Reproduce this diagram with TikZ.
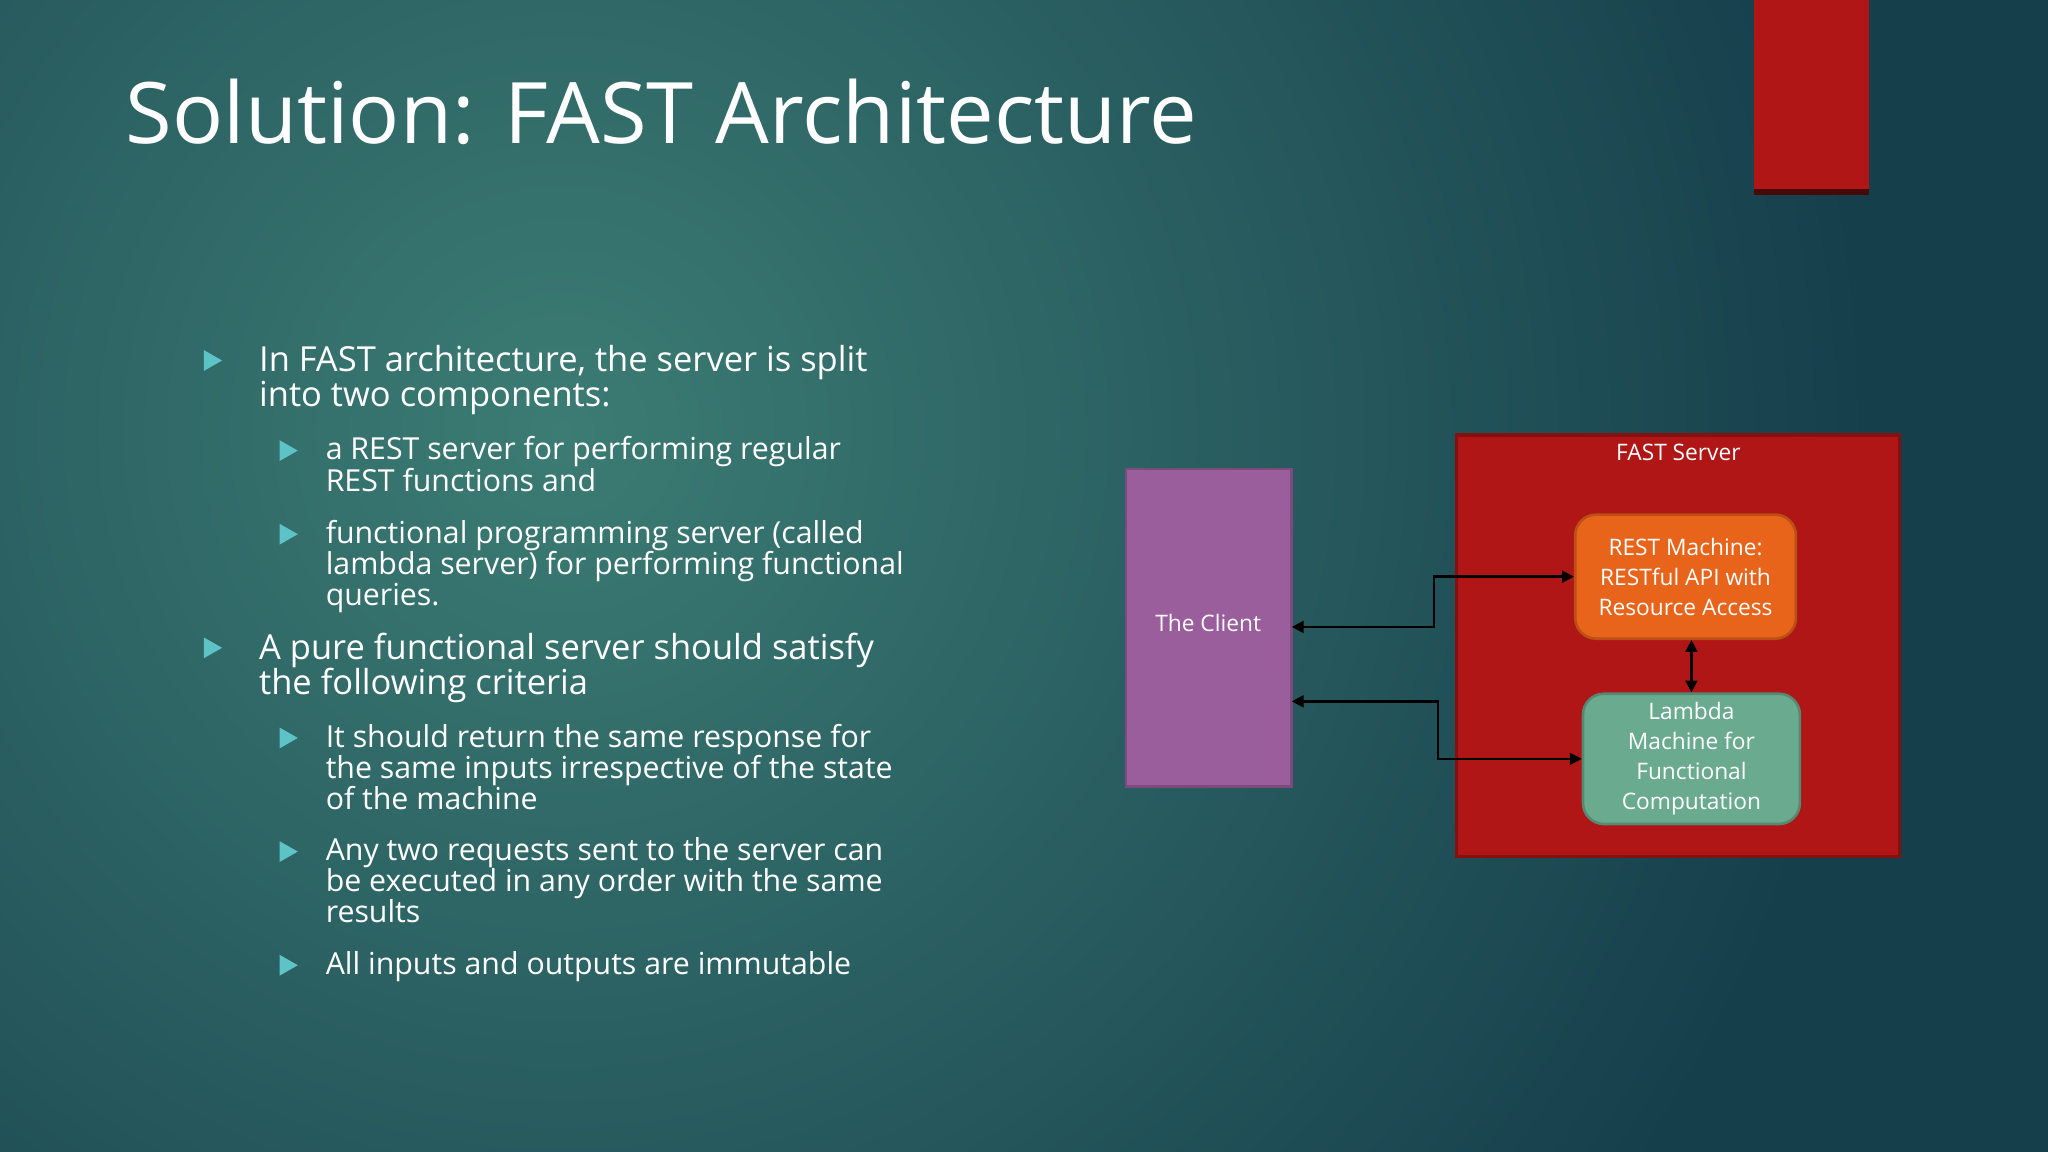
\documentclass[tikz,border=0pt]{standalone}
\usepackage{fontspec}
\setmainfont{Open Sans}
\usetikzlibrary{arrows.meta}
\definecolor{bgdark}{HTML}{163F4C}
\definecolor{bglight}{HTML}{3C7C74}
\definecolor{tri}{HTML}{5EC3C6}
\definecolor{clientc}{HTML}{9B5E9C}
\definecolor{serverc}{HTML}{B01616}
\definecolor{restc}{HTML}{E8641A}
\definecolor{lamc}{HTML}{6AAB90}
\tikzset{
  lone/.style={anchor=north west, text=white, font=\fontsize{13.2}{13.5}\selectfont, align=left, inner sep=0pt},
  ltwo/.style={anchor=north west, text=white, font=\fontsize{11.6}{11.9}\selectfont, align=left, inner sep=0pt},
  boxtext/.style={text=white, font=\fontsize{8.7}{11.5}\selectfont, align=center},
  conn/.style={black, line width=0.9pt, {Triangle[length=4.5pt,width=4.5pt]}-{Triangle[length=4.5pt,width=4.5pt]}}
}
\newcommand{\tri}[2]{\fill[tri] (#1-7,#2-8) -- (#1+7,#2) -- (#1-7,#2+8) -- cycle;}
\begin{document}
\begin{tikzpicture}[x=0.5pt,y=-0.5pt]
\useasboundingbox (0,0) rectangle (1568,882);
\begin{scope}
\clip (0,0) rectangle (1568,882);
\fill[bgdark] (0,0) rectangle (1568,882);
\shade[inner color=bglight, outer color=bgdark] (430,330) circle (1000);
\end{scope}
% top red tab
\fill[black!60!serverc] (1343,0) rectangle (1431,149);
\fill[serverc] (1343,0) rectangle (1431,145);
% title
\node[anchor=base west, text=white, inner sep=0pt, font=\fontsize{32.5}{36}\selectfont] (title) at (96,110) {Solution: FAST Architecture};
% bullets
\tri{163}{276}\tri{163}{496}
\foreach \y in {345,409,565,652,739} {\tri{221}{\y}}
\node[lone] (b1) at (198,264) {In FAST architecture, the server is split\\into two components:};
\node[ltwo] (b11) at (249,334) {a REST server for performing regular\\REST functions and};
\node[ltwo] (b12) at (249,398) {functional programming server (called\\lambda server) for performing functional\\queries.};
\node[lone] (b2) at (198,484) {A pure functional server should satisfy\\the following criteria};
\node[ltwo] (b21) at (249,554) {It should return the same response for\\the same inputs irrespective of the state\\of the machine};
\node[ltwo] (b22) at (249,641) {Any two requests sent to the server can\\be executed in any order with the same\\results};
\node[ltwo] (b23) at (249,728) {All inputs and outputs are immutable};
% diagram
\path[fill=clientc, draw=clientc!80!black, line width=1pt] (862,359) rectangle (989,602);
\node[boxtext] (client) at (925,477) {The Client};
\path[fill=serverc, draw=serverc!75!black, line width=1.2pt] (1115,333) rectangle (1454,656);
\node[boxtext] (server) at (1285,346) {FAST Server};
\node[fill=restc, draw=restc!80!black, line width=1pt, rounded corners=8pt, minimum width=84.5pt, minimum height=47.5pt, boxtext] (rest) at (1290.5,441.5) {REST Machine:\\RESTful API with\\Resource Access};
\node[fill=lamc, draw=lamc!80!black, line width=1pt, rounded corners=8pt, minimum width=83pt, minimum height=49pt, boxtext] (lam) at (1295,581) {Lambda\\Machine for\\Functional\\Computation};
\coordinate (c1) at (989,480);
\coordinate (c2) at (989,537);
\draw[conn] (c1) -- (1098,480) |- (rest.west);
\draw[conn] (c2) -- (1101,537) |- (lam.west);
\draw[conn] (rest.south -| 1295,0) -- (lam.north);
\end{tikzpicture}
\end{document}
